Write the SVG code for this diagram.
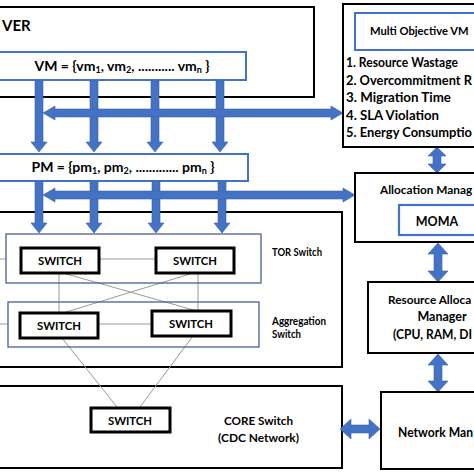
<svg xmlns="http://www.w3.org/2000/svg" width="474" height="474" viewBox="0 0 474 474">
<style>
  .frame{fill:#fff;stroke:#000;stroke-width:2}
  .bluebox{fill:#fff;stroke:#4472C4;stroke-width:2}
  .layer{fill:none;stroke:#4a5f8f;stroke-width:1.3}
  .sw{fill:#fff;stroke:#000;stroke-width:3}
  .link{stroke:#9a9a9a;stroke-width:1;fill:none}
  .arr{fill:#4472C4;stroke:#3a62ad;stroke-width:0.6}
  text{font-family:Lato,"Open Sans","Liberation Sans",sans-serif;font-weight:700;fill:#000}
  .t12{font-size:12.5px}
  .t115{font-size:11.8px}
  .t11{font-size:10.5px}
  .swt{font-size:12px;text-anchor:middle}
  .mid{text-anchor:middle}
</style>
<rect width="474" height="474" fill="#fff"/>

<g id="server">
  <rect class="frame" x="-10" y="7" width="324" height="90"/>
  <text x="2" y="31" style="font-size:15px">VER</text>
</g>

<g id="vm">
  <rect class="bluebox" x="-10" y="52" width="256" height="28"/>
  <text class="mid" x="122" y="71" style="font-size:14px">VM = {vm<tspan font-size="9" dy="2">1</tspan><tspan dy="-2">, vm</tspan><tspan font-size="9" dy="2">2</tspan><tspan dy="-2">, ...........  vm</tspan><tspan font-size="9" dy="2">n</tspan><tspan dy="-2"> }</tspan></text>
</g>

<g id="pm">
  <rect class="bluebox" x="-10" y="154" width="258" height="27"/>
  <text class="mid" x="123" y="172" style="font-size:14px">PM = {pm<tspan font-size="9" dy="2">1</tspan><tspan dy="-2">, pm</tspan><tspan font-size="9" dy="2">2</tspan><tspan dy="-2">, ............. pm</tspan><tspan font-size="9" dy="2">n</tspan><tspan dy="-2"> }</tspan></text>
</g>

<g id="datacenter">
  <rect class="frame" x="-10" y="212" width="352" height="155"/>
</g>

<g id="core-network">
  <rect class="frame" x="-10" y="386" width="352" height="82"/>
  <text x="224" y="425" style="font-size:12px" textLength="69" lengthAdjust="spacingAndGlyphs">CORE Switch</text>
  <text x="218" y="442" style="font-size:12px" textLength="81" lengthAdjust="spacingAndGlyphs">(CDC Network)</text>
</g>

<g id="connectors">
  <line class="link" x1="0" y1="259" x2="6" y2="259"/>
  <line class="link" x1="0" y1="324" x2="8" y2="324"/>
  <line class="link" x1="99" y1="259" x2="156" y2="259"/>
  <line class="link" x1="98" y1="324" x2="152" y2="324"/>
  <line class="link" x1="59" y1="273" x2="59" y2="313"/>
  <line class="link" x1="198" y1="273" x2="198" y2="311"/>
  <line class="link" x1="63" y1="273" x2="197" y2="311"/>
  <line class="link" x1="193" y1="273" x2="63" y2="313"/>
  <line class="link" x1="62" y1="338" x2="117" y2="407"/>
  <line class="link" x1="193" y1="336" x2="140" y2="407"/>

  <polygon class="arr" points="35,81 43,81 43,142 47,142 39,152 31,142 35,142"/>
  <polygon class="arr" points="90,81 98,81 98,142 102,142 94,152 86,142 90,142"/>
  <polygon class="arr" points="151,81 159,81 159,142 163,142 155,152 147,142 151,142"/>
  <polygon class="arr" points="216,81 224,81 224,142 228,142 220,152 212,142 216,142"/>

  <polygon class="arr" points="35,181 43,181 43,223 47,223 39,233 31,223 35,223"/>
  <polygon class="arr" points="90,181 98,181 98,223 102,223 94,233 86,223 90,223"/>
  <polygon class="arr" points="152,181 160,181 160,223 164,223 156,233 148,223 152,223"/>
  <polygon class="arr" points="218,181 226,181 226,223 230,223 222,233 214,223 218,223"/>

  <polygon class="arr" points="43,113 55,106 55,109 331,109 331,106 343,113 331,120 331,117 55,117 55,120"/>
  <polygon class="arr" points="43,195 55,188 55,191 343,191 343,188 355,195 343,202 343,199 55,199 55,202"/>

  <polygon class="arr" points="437,147 446,156 441,156 441,164 446,164 437,173 428,164 433,164 433,156 428,156"/>
  <polygon class="arr" points="438,243 448,254 442,254 442,271 448,271 438,282 428,271 434,271 434,254 428,254"/>
  <polygon class="arr" points="438,354 448,365 442,365 442,381 448,381 438,392 428,381 434,381 434,365 428,365"/>
  <polygon class="arr" points="340,429 351,419 351,425 369,425 369,419 380,429 369,439 369,433 351,433 351,439"/>
</g>

<g id="tor">
  <rect class="layer" x="6" y="234" width="255" height="49"/>
  <text class="t11" x="272" y="256" textLength="50" lengthAdjust="spacingAndGlyphs">TOR Switch</text>
</g>
<g id="tor-sw1">
  <rect class="sw" x="21" y="248" width="78" height="25"/>
  <text class="swt" x="60" y="265" textLength="44" lengthAdjust="spacingAndGlyphs">SWITCH</text>
</g>
<g id="tor-sw2">
  <rect class="sw" x="156" y="248" width="78" height="25"/>
  <text class="swt" x="195" y="265" textLength="44" lengthAdjust="spacingAndGlyphs">SWITCH</text>
</g>

<g id="aggregation">
  <rect class="layer" x="8" y="302" width="251" height="45"/>
  <text class="t11" x="272" y="325" textLength="54" lengthAdjust="spacingAndGlyphs">Aggregation</text>
  <text class="t11" x="272" y="338" textLength="29" lengthAdjust="spacingAndGlyphs">Switch</text>
</g>
<g id="agg-sw1">
  <rect class="sw" x="20" y="313" width="78" height="25"/>
  <text class="swt" x="59" y="330" textLength="44" lengthAdjust="spacingAndGlyphs">SWITCH</text>
</g>
<g id="agg-sw2">
  <rect class="sw" x="152" y="311" width="79" height="25"/>
  <text class="swt" x="191" y="328" textLength="44" lengthAdjust="spacingAndGlyphs">SWITCH</text>
</g>

<g id="core-sw">
  <rect class="sw" x="91" y="408" width="79" height="24"/>
  <text class="swt" x="130" y="425" textLength="44" lengthAdjust="spacingAndGlyphs">SWITCH</text>
</g>

<g id="multi-objective">
  <rect class="frame" x="343" y="4" width="140" height="143"/>
  <rect class="bluebox" x="355" y="13" width="130" height="37"/>
  <text x="370" y="35" style="font-size:11.2px">Multi Objective VM</text>
  <text class="t12" x="346" y="67" textLength="112" lengthAdjust="spacingAndGlyphs">1. Resource Wastage</text>
  <text class="t12" x="346" y="85" textLength="126" lengthAdjust="spacingAndGlyphs">2. Overcommitment R</text>
  <text class="t12" x="346" y="102" textLength="105" lengthAdjust="spacingAndGlyphs">3. Migration Time</text>
  <text class="t12" x="346" y="120" textLength="93" lengthAdjust="spacingAndGlyphs">4. SLA Violation</text>
  <text class="t12" x="346" y="137" textLength="126" lengthAdjust="spacingAndGlyphs">5. Energy Consumptio</text>
</g>

<g id="allocation-manager">
  <rect class="frame" x="355" y="173" width="130" height="69"/>
  <text class="t115" x="380" y="194">Allocation Manag</text>
  <rect class="bluebox" x="399" y="205" width="80" height="30" style="stroke-width:2.2"/>
  <text class="t12 mid" x="437" y="226">MOMA</text>
</g>

<g id="resource-allocation-manager">
  <rect class="frame" x="368" y="282" width="120" height="71"/>
  <text class="t115" x="388" y="304">Resource Alloca</text>
  <text class="t12 mid" x="442" y="321">Manager</text>
  <text class="t12" x="393" y="339" textLength="79" lengthAdjust="spacingAndGlyphs">(CPU, RAM, DI</text>
</g>

<g id="network-manager">
  <rect class="frame" x="381" y="392" width="110" height="77"/>
  <text class="t12" x="398" y="437" textLength="75" lengthAdjust="spacingAndGlyphs">Network Man</text>
</g>
</svg>
